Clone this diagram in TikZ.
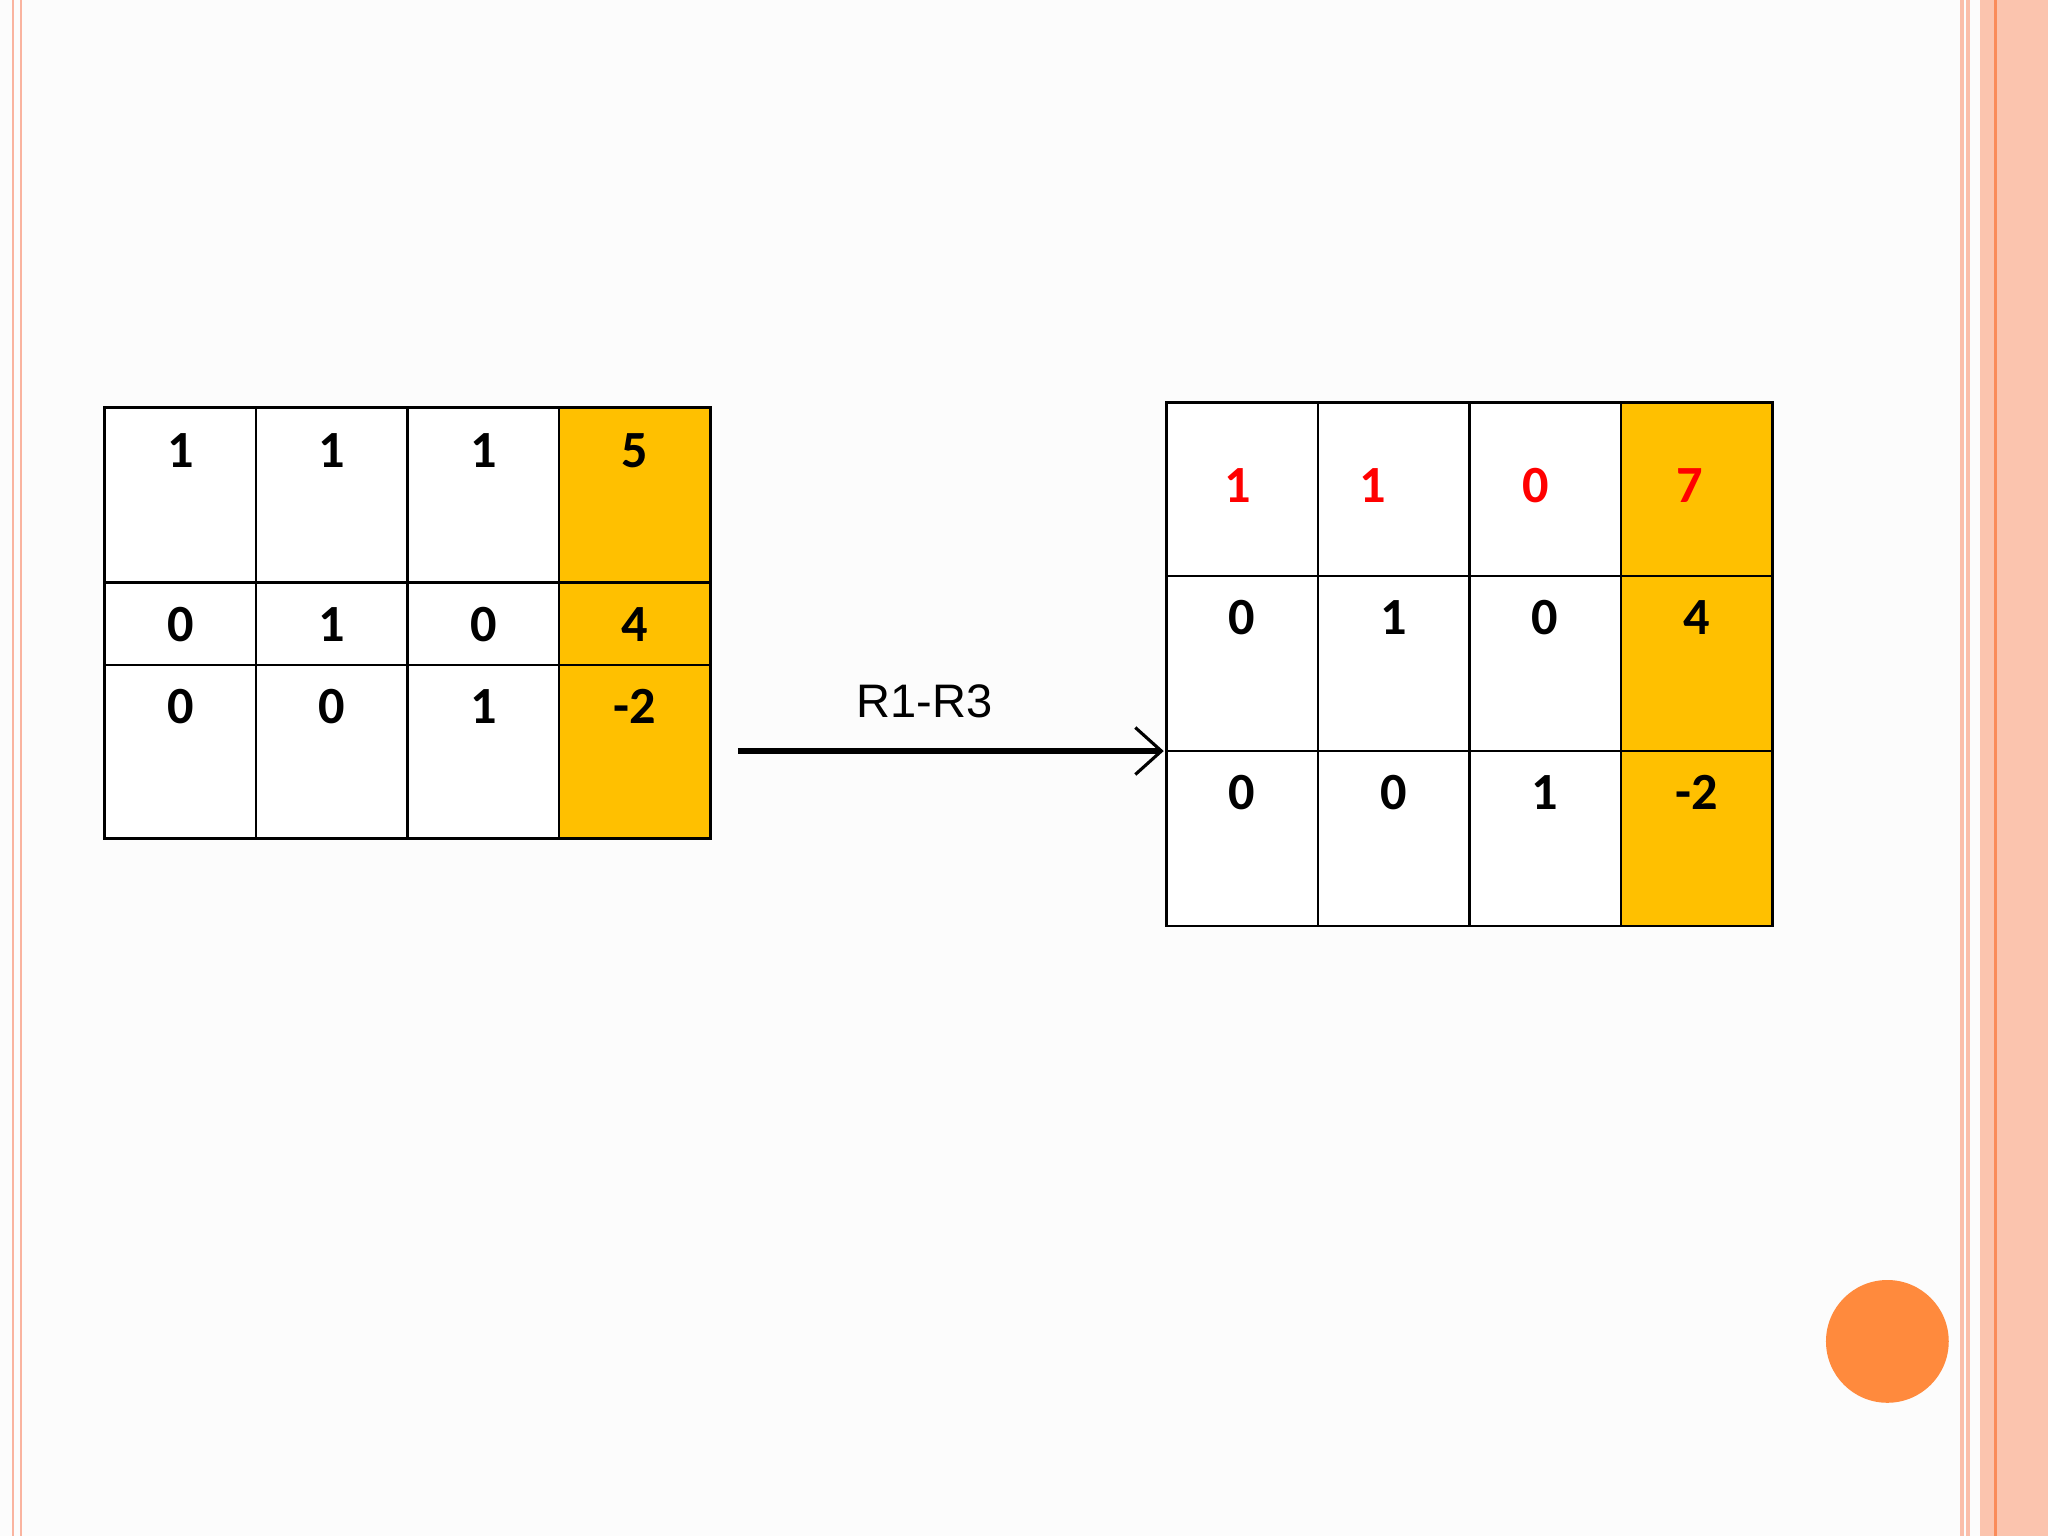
\documentclass[tikz,border=0pt]{standalone}
\usepackage{fontspec}
\setmainfont{Carlito}
\newfontfamily\arialf{Liberation Sans}
\usetikzlibrary{arrows.meta}
\begin{document}
\begin{tikzpicture}[x=0.5pt,y=-0.5pt,
  cellw/.style={draw=black,line width=1pt,fill=white},
  celly/.style={draw=black,line width=1pt,fill={rgb,255:red,255;green,192;blue,0}},
  num/.style={font=\fontsize{20}{20}\selectfont\bfseries,text=black},
  rnum/.style={num,text=red}]
\useasboundingbox (0,0) rectangle (1568,1176);
\fill[white!98!gray] (0,0) rectangle (1568,1176);
% borders
\draw[line width=1pt,color={rgb,255:red,250;green,180;blue,160}] (10,0)--(10,1176) (16,0)--(16,1176);
\draw[line width=1.5pt,color={rgb,255:red,250;green,190;blue,170}] (1502,0)--(1502,1176) (1507,0)--(1507,1176);
\fill[color={rgb,255:red,251;green,196;blue,174}] (1516,0) rectangle (1568,1176);
\draw[line width=1pt,color={rgb,255:red,250;green,140;blue,90}] (1528,0)--(1528,1176);
\fill[color={rgb,255:red,255;green,138;blue,61}] (1445,1027) circle (47);
% left table
\foreach \xa/\xb/\st in {80/196/cellw,196/312/cellw,312/428/cellw,428/544/celly}{
  \foreach \ya/\yb in {312/446,446/509,509/642}{
    \draw[\st] (\xa,\ya) rectangle (\xb,\yb);}}
\node[num] (l11) at (138,345) {1};
\node[num] (l12) at (254,345) {1};
\node[num] (l13) at (370,345) {1};
\node[num] (l14) at (486,345) {5};
\node[num] (l21) at (138,478) {0};
\node[num] (l22) at (254,478) {1};
\node[num] (l23) at (370,478) {0};
\node[num] (l24) at (486,478) {4};
\node[num] (l31) at (138,541) {0};
\node[num] (l32) at (254,541) {0};
\node[num] (l33) at (370,541) {1};
\node[num] (l34) at (486,541) {-2};
% right table
\foreach \xa/\xb/\st in {893/1009/cellw,1009/1125/cellw,1125/1241/cellw,1241/1357/celly}{
  \foreach \ya/\yb in {308/441,441/575,575/709}{
    \draw[\st] (\xa,\ya) rectangle (\xb,\yb);}}
\node[rnum] (r11) at (948,372) {1};
\node[rnum] (r12) at (1051,372) {1};
\node[rnum] (r13) at (1176,372) {0};
\node[rnum] (r14) at (1294,372) {7};
\node[num] (r21) at (951,473) {0};
\node[num] (r22) at (1067,473) {1};
\node[num] (r23) at (1183,473) {0};
\node[num] (r24) at (1299,473) {4};
\node[num] (r31) at (951,607) {0};
\node[num] (r32) at (1067,607) {0};
\node[num] (r33) at (1183,607) {1};
\node[num] (r34) at (1299,607) {-2};
% arrow
\coordinate (a1) at (565,575);
\coordinate (a2) at (891,575);
\draw[line width=2pt,-{Straight Barb[length=10pt,width=18pt,line width=1.2pt]}] (a1) -- (a2);
\node[font=\arialf\fontsize{18}{18}\selectfont] (lab) at (708,537) {R1-R3};
\end{tikzpicture}
\end{document}
